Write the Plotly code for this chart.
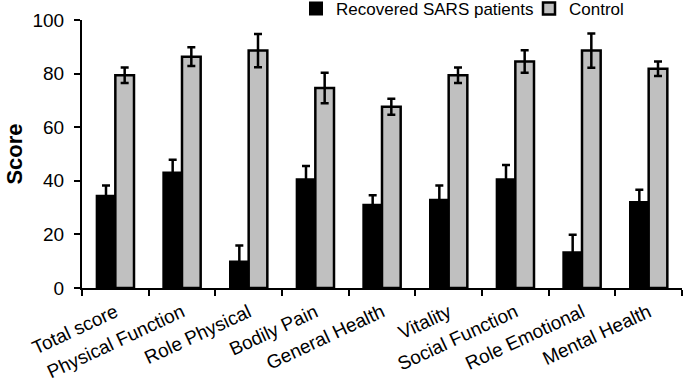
import plotly.graph_objects as go

categories = ["Total score", "Physical Function", "Role Physical", "Bodily Pain",
              "General Health", "Vitality", "Social Function", "Role Emotional", "Mental Health"]
sars_values = [34.4, 43.1, 9.9, 40.6, 31.1, 32.9, 40.6, 13.3, 32.1]
sars_errors = [3.8, 4.8, 6.0, 4.9, 3.5, 5.3, 5.3, 6.6, 4.6]
control_values = [79.4, 86.3, 88.6, 74.6, 67.6, 79.4, 84.5, 88.6, 81.8]
control_errors = [2.9, 3.5, 6.2, 5.7, 3.0, 2.9, 4.2, 6.4, 2.7]
y_ticks = [0, 20, 40, 60, 80, 100]

font_family = "Liberation Sans, Arial, sans-serif"

fig = go.Figure()
fig.add_trace(go.Bar(
    x=categories, y=sars_values, name="Recovered SARS patients", legend="legend",
    marker=dict(color="black", line=dict(color="black", width=2)),
    error_y=dict(type="data", array=sars_errors, color="black", thickness=2.5, width=4),
))
fig.add_trace(go.Bar(
    x=categories, y=control_values, name="Control", legend="legend2",
    marker=dict(color="#c0c0c0", line=dict(color="black", width=2.5)),
    error_y=dict(type="data", array=control_errors, color="black", thickness=2.5, width=4),
))

legend_common = dict(orientation="h", xanchor="left", y=1 - 9 / 386, yanchor="middle",
                     xref="container", yref="container",
                     font=dict(size=17, family=font_family), itemwidth=30,
                     bgcolor="rgba(0,0,0,0)")

fig.update_layout(
    width=685, height=386,
    margin=dict(l=82, r=3, t=20, b=98, autoexpand=False),
    paper_bgcolor="white", plot_bgcolor="white",
    barmode="group", bargap=0.44, bargroupgap=0,
    font=dict(family=font_family, color="black", size=18),
    showlegend=True,
    legend=dict(x=296 / 685, **legend_common),
    legend2=dict(x=529 / 685, **legend_common),
)
fig.update_yaxes(
    range=[0, 100], tickvals=y_ticks, showgrid=False, zeroline=False,
    showline=True, linecolor="black", linewidth=2,
    ticks="outside", ticklen=6, tickwidth=2, tickcolor="black",
    tickfont=dict(size=19), ticklabelstandoff=6,
    title=dict(text="<b>Score</b>", font=dict(size=22), standoff=4),
)
fig.update_xaxes(
    showgrid=False, showline=True, linecolor="black", linewidth=2,
    ticks="outside", ticklen=6, tickwidth=2, tickcolor="black",
    tickson="boundaries", tickangle=-25, tickfont=dict(size=19), ticklabelstandoff=4,
)

fig.write_html("out.html", post_script="document.body.style.margin='0';",
               config={"displayModeBar": False})
